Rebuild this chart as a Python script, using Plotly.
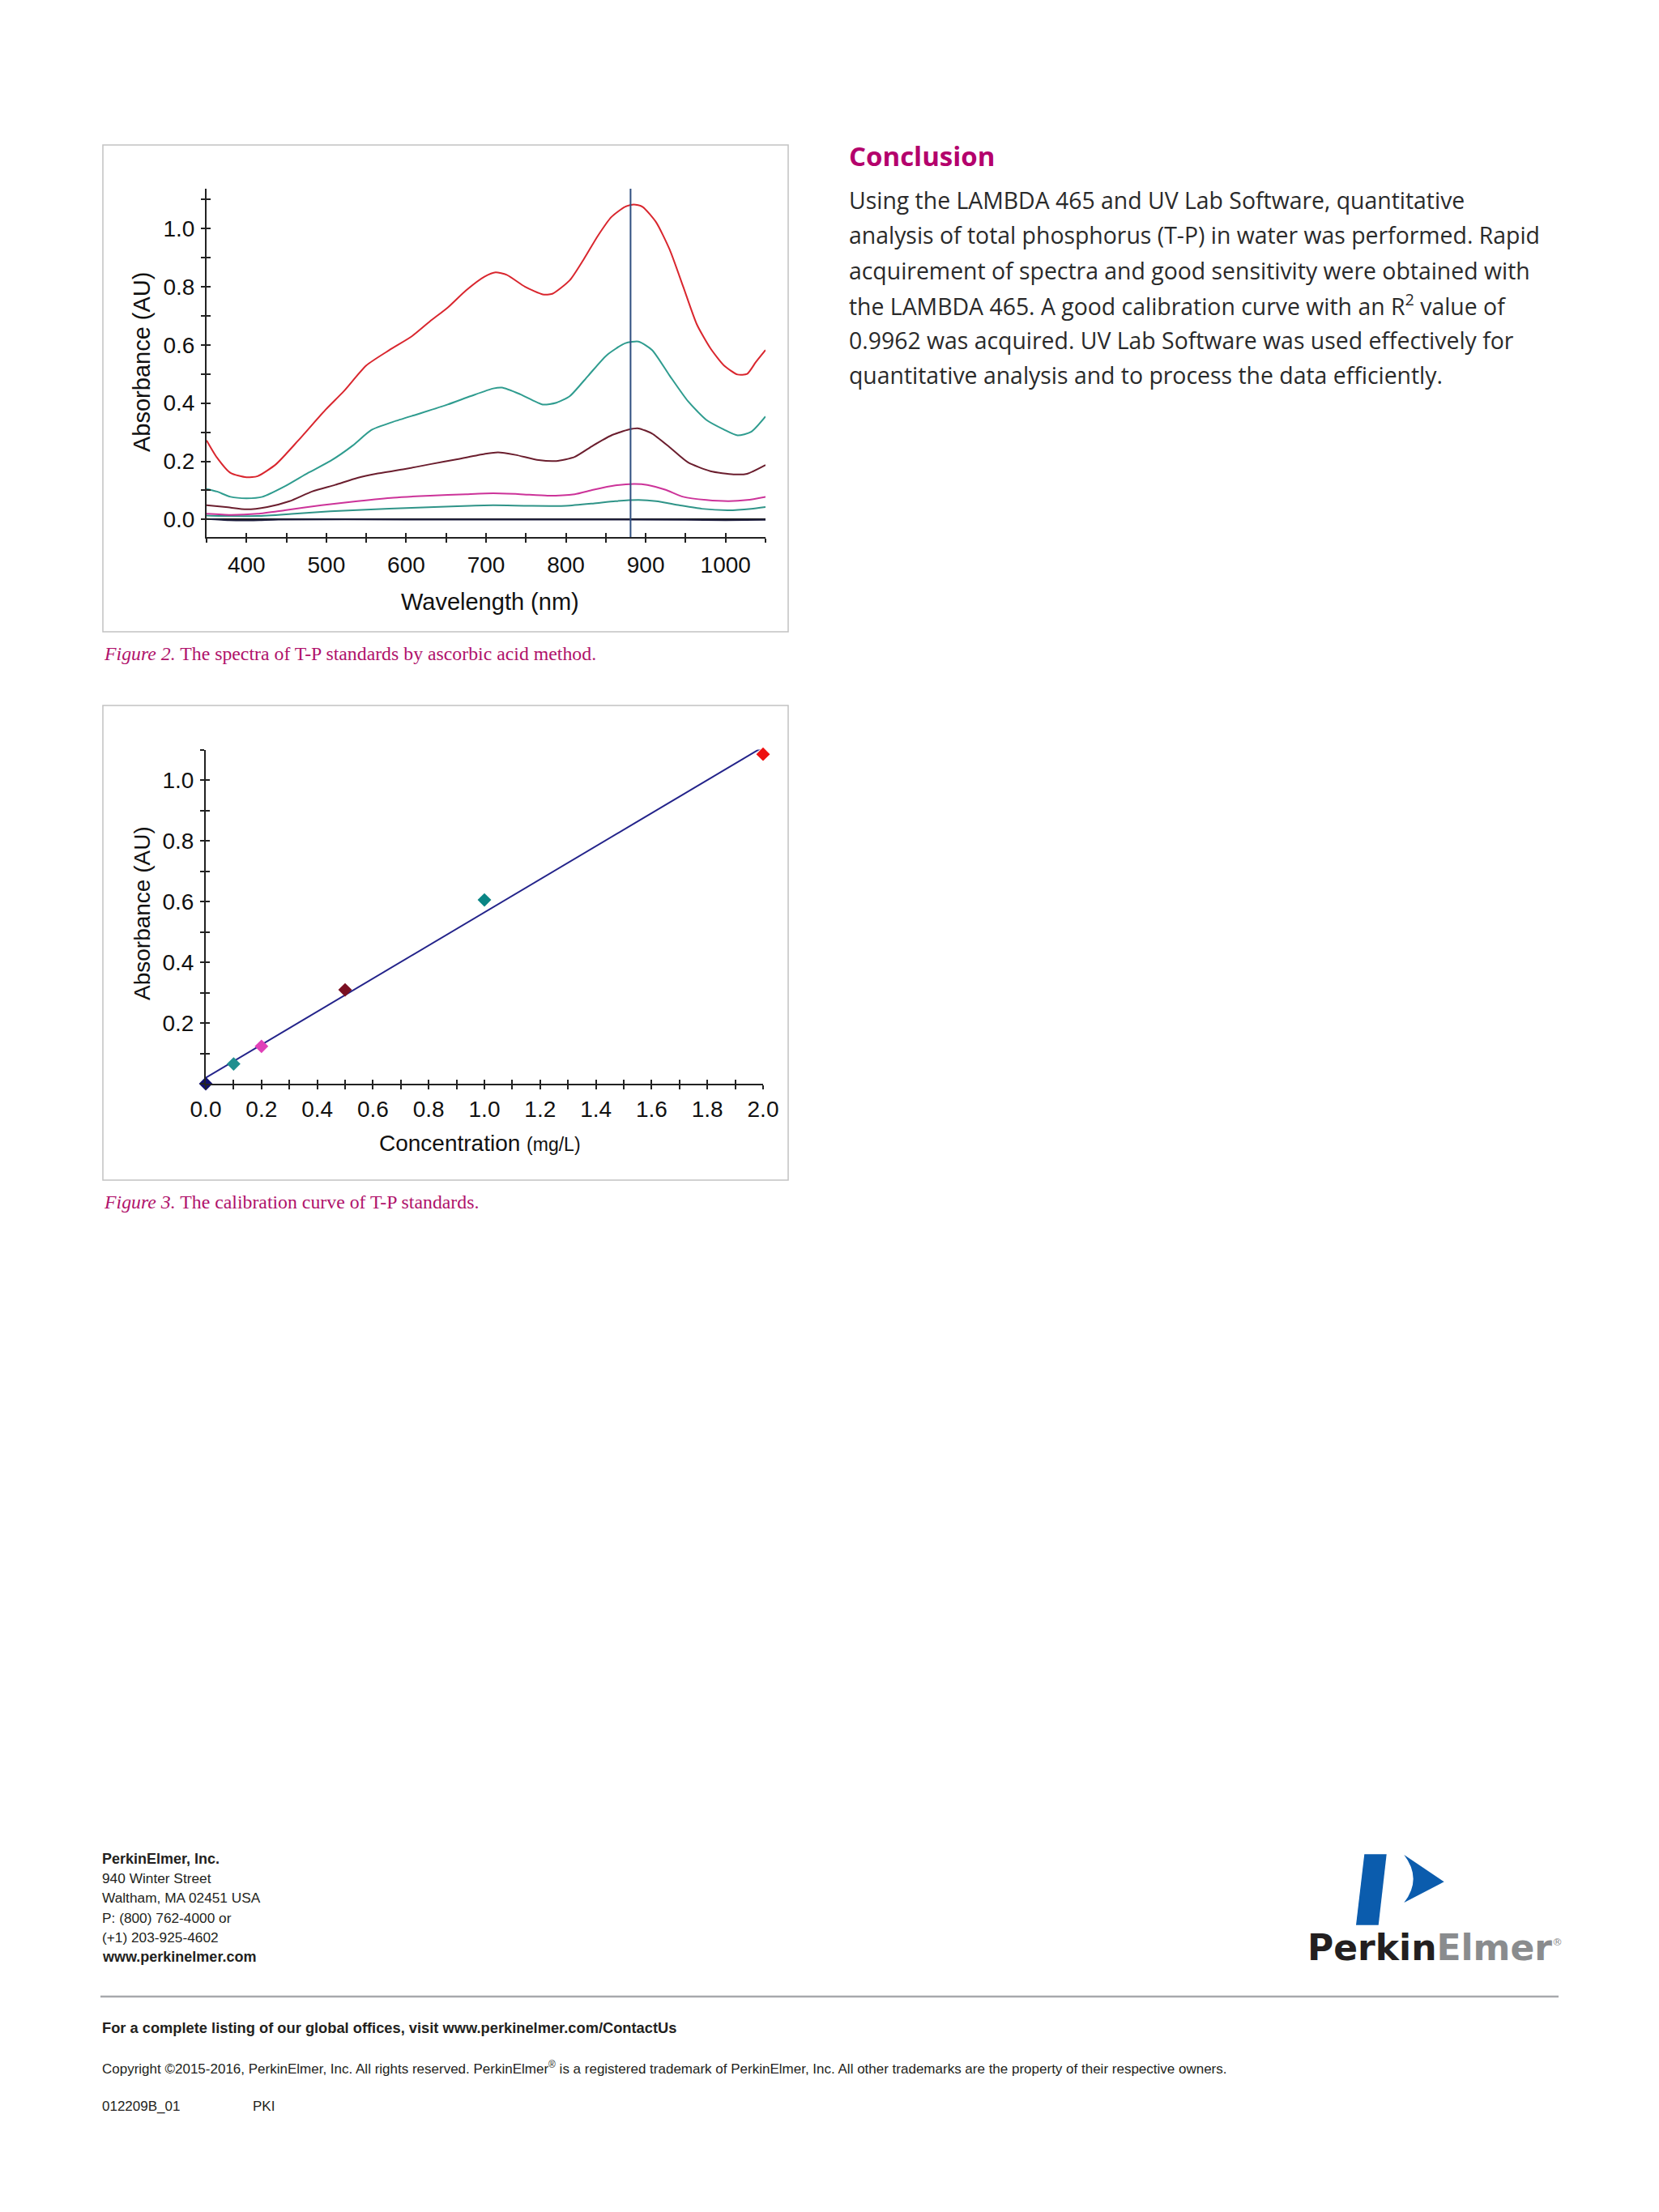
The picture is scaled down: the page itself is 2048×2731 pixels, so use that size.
import numpy as np
import plotly.graph_objects as go

W, H = 2048, 2731

# ---------------- DATA ----------------
# Figure 2: spectra of T-P standards (wavelength nm, absorbance AU)
WL_2_0 = [350, 363, 380, 400, 414, 437, 465, 499, 522, 550, 579, 607, 630, 652, 675, 698, 712, 726, 749,
          771, 783, 805, 822, 840, 857, 874, 885, 896, 913, 930, 947, 964, 981, 998, 1015, 1027, 1038, 1050]
AB_2_0 = [0.272, 0.213, 0.160, 0.145, 0.149, 0.190, 0.272, 0.377, 0.441, 0.529, 0.582, 0.629, 0.681, 0.728,
          0.787, 0.834, 0.849, 0.840, 0.799, 0.773, 0.775, 0.822, 0.892, 0.974, 1.039, 1.074, 1.082, 1.074,
          1.021, 0.927, 0.799, 0.670, 0.588, 0.529, 0.498, 0.500, 0.541, 0.582]

WL_1_0 = [350, 363, 380, 400, 420, 448, 477, 505, 533, 556, 584, 618, 652, 681, 709, 720, 743, 771, 788,
          805, 828, 851, 874, 891, 908, 930, 953, 976, 998, 1015, 1032, 1050]
AB_1_0 = [0.105, 0.096, 0.078, 0.073, 0.078, 0.114, 0.160, 0.201, 0.254, 0.307, 0.336, 0.365, 0.395, 0.424,
          0.450, 0.453, 0.430, 0.395, 0.401, 0.424, 0.494, 0.564, 0.605, 0.611, 0.582, 0.494, 0.406, 0.342,
          0.309, 0.289, 0.301, 0.354]

WL_0_5 = [350, 374, 400, 426, 454, 482, 511, 539, 562, 596, 630, 664, 698, 715, 737, 766, 788, 811, 834,
          857, 879, 891, 908, 930, 953, 981, 1010, 1027, 1050]
AB_0_5 = [0.049, 0.043, 0.035, 0.043, 0.063, 0.096, 0.119, 0.143, 0.157, 0.172, 0.190, 0.207, 0.225, 0.231,
          0.222, 0.204, 0.201, 0.215, 0.254, 0.289, 0.309, 0.313, 0.295, 0.248, 0.196, 0.166, 0.155, 0.157,
          0.187]

WL_0_2 = [350, 380, 414, 448, 494, 539, 584, 630, 675, 709, 743, 777, 811, 834, 862, 885, 902, 925, 947,
          976, 1004, 1027, 1050]
AB_0_2 = [0.020, 0.016, 0.020, 0.032, 0.049, 0.063, 0.075, 0.082, 0.087, 0.090, 0.087, 0.082, 0.087, 0.102,
          0.117, 0.122, 0.119, 0.102, 0.078, 0.067, 0.063, 0.067, 0.078]

WL_0_1 = [350, 380, 414, 460, 505, 550, 607, 664, 709, 754, 800, 834, 862, 891, 913, 942, 970, 1004, 1032,
          1050]
AB_0_1 = [0.014, 0.012, 0.012, 0.020, 0.028, 0.034, 0.040, 0.046, 0.049, 0.047, 0.047, 0.055, 0.063, 0.067,
          0.063, 0.049, 0.037, 0.032, 0.037, 0.043]

WL_BLANK = [350, 378, 395, 416, 440, 600, 800, 950, 1000, 1050]
AB_BLANK = [0.002, -0.002, -0.003, -0.002, 0.000, 0.000, 0.000, -0.001, -0.002, -0.001]

CURSOR_WL = 881

# Figure 3: calibration
CONC = [0.0, 0.1, 0.2, 0.5, 1.0, 2.0]
ABS = [0.000, 0.065, 0.123, 0.309, 0.605, 1.085]

# ticks
X1_TICKS = [350, 400, 450, 500, 550, 600, 650, 700, 750, 800, 850, 900, 950, 1000, 1050]
Y1_TICKS = [0.0, 0.1, 0.2, 0.3, 0.4, 0.5, 0.6, 0.7, 0.8, 0.9, 1.0, 1.1]
X2_TICKS = [0.0, 0.1, 0.2, 0.3, 0.4, 0.5, 0.6, 0.7, 0.8, 0.9, 1.0, 1.1, 1.2, 1.3, 1.4, 1.5, 1.6, 1.7, 1.8,
            1.9, 2.0]
Y2_TICKS = [0.0, 0.1, 0.2, 0.3, 0.4, 0.5, 0.6, 0.7, 0.8, 0.9, 1.0, 1.1]

BODY_LINES = [
    "Using the LAMBDA 465 and UV Lab Software, quantitative",
    "analysis of total phosphorus (T-P) in water was performed. Rapid",
    "acquirement of spectra and good sensitivity were obtained with",
    "the LAMBDA 465. A good calibration curve with an R<sup>2</sup> value of",
    "0.9962 was acquired. UV Lab Software was used effectively for",
    "quantitative analysis and to process the data efficiently.",
]
ADDRESS_LINES = [
    ("PerkinElmer, Inc.", True),
    ("940 Winter Street", False),
    ("Waltham, MA 02451 USA", False),
    ("P: (800) 762-4000 or", False),
    ("(+1) 203-925-4602", False),
    ("www.perkinelmer.com", True),
]

# ---------------- helpers (page pixel -> paper) ----------------
def px(x):
    return x / W


def py(y):
    return 1 - y / H


AX_COL = "#222222"
TICK_FONT = dict(family="Liberation Sans, Arial, sans-serif", size=28, color="#111111")

fig = go.Figure()

spectra = [
    (WL_BLANK, AB_BLANK, "#1c1c3c"),
    (WL_0_1, AB_0_1, "#2f9488"),
    (WL_0_2, AB_0_2, "#cc3399"),
    (WL_0_5, AB_0_5, "#6b1e2e"),
    (WL_1_0, AB_1_0, "#2f9c8f"),
    (WL_2_0, AB_2_0, "#d9262e"),
]
for wl, ab, col in spectra:
    fig.add_trace(go.Scatter(x=wl, y=ab, mode="lines", xaxis="x", yaxis="y",
                             line=dict(color=col, width=2, shape="spline", smoothing=0.6),
                             showlegend=False, hoverinfo="skip"))

Y1_RANGE = [-0.06, 1.136]
fig.add_trace(go.Scatter(x=[CURSOR_WL, CURSOR_WL], y=Y1_RANGE, mode="lines", xaxis="x", yaxis="y",
                         line=dict(color="#2f4f80", width=2), showlegend=False, hoverinfo="skip",
                         cliponaxis=False))

# calibration fit
slope, intercept = np.polyfit(CONC, ABS, 1)
fit_x = [min(CONC), max(CONC)]
fit_y = [intercept + slope * v for v in fit_x]
fig.add_trace(go.Scatter(x=fit_x, y=fit_y, mode="lines", xaxis="x2", yaxis="y2",
                         line=dict(color="#23238a", width=2), showlegend=False, hoverinfo="skip",
                         cliponaxis=False))
CAL_COLORS = ["#10106e", "#1f8f8f", "#e040b8", "#7a0f22", "#0a8585", "#ee1111"]
fig.add_trace(go.Scatter(x=CONC, y=ABS, mode="markers", xaxis="x2", yaxis="y2",
                         marker=dict(symbol="diamond", size=13, color=CAL_COLORS),
                         showlegend=False, hoverinfo="skip", cliponaxis=False))

# dummy traces for overlay axes (crossing ticks)
fig.add_trace(go.Scatter(x=[None], y=[None], xaxis="x3", yaxis="y3", showlegend=False))
fig.add_trace(go.Scatter(x=[None], y=[None], xaxis="x4", yaxis="y4", showlegend=False))


def main_axis(**kw):
    d = dict(showgrid=False, zeroline=False, showline=True, linecolor=AX_COL, linewidth=2,
             ticks="outside", ticklen=5, tickwidth=2, tickcolor=AX_COL, tickfont=TICK_FONT,
             tickmode="array", fixedrange=True)
    d.update(kw)
    return d


def over_axis(**kw):
    d = dict(showgrid=False, zeroline=False, showline=False, ticks="inside", ticklen=5, tickwidth=2,
             tickcolor=AX_COL, showticklabels=False, tickmode="array", fixedrange=True)
    d.update(kw)
    return d


def lab(vals, every, fmt, skip=()):
    out = []
    for v in vals:
        ok = abs(round(v / every) * every - v) < 1e-9 and v not in skip
        out.append(fmt.format(v) if ok else " ")
    return out


X1_RANGE = [350, 1050]
X2_RANGE = [0, 2.0]
Y2_RANGE = [0, 1.1]

fig.update_layout(
    width=W, height=H, margin=dict(l=0, r=0, t=0, b=0, autoexpand=False), autosize=False,
    paper_bgcolor="white", plot_bgcolor="white",
    xaxis=main_axis(domain=[px(255), px(945)], range=X1_RANGE, anchor="y",
                    tickvals=X1_TICKS, ticktext=lab(X1_TICKS, 100, "{:.0f}"), ticklabelstandoff=3),
    yaxis=main_axis(domain=[py(663), py(233)], range=Y1_RANGE, anchor="x",
                    tickvals=Y1_TICKS, ticktext=lab(Y1_TICKS, 0.2, "{:.1f}"),
                    zeroline=True, zerolinecolor="#1a1a1a", zerolinewidth=2, ticklabelstandoff=2),
    xaxis3=over_axis(overlaying="x", anchor="y3", range=X1_RANGE, tickvals=X1_TICKS),
    yaxis3=over_axis(overlaying="y", anchor="x3", range=Y1_RANGE, tickvals=Y1_TICKS),
    xaxis2=main_axis(domain=[px(254), px(942)], range=X2_RANGE, anchor="y2",
                     tickvals=X2_TICKS, ticktext=lab(X2_TICKS, 0.2, "{:.1f}"), ticklabelstandoff=0),
    yaxis2=main_axis(domain=[py(1338), py(925.5)], range=Y2_RANGE, anchor="x2",
                     tickvals=Y2_TICKS, ticktext=lab(Y2_TICKS, 0.2, "{:.1f}", skip=(0.0,)),
                     ticklabelstandoff=2),
    xaxis4=over_axis(overlaying="x2", anchor="y4", range=X2_RANGE, tickvals=X2_TICKS),
    yaxis4=over_axis(overlaying="y2", anchor="x4", range=Y2_RANGE, tickvals=Y2_TICKS),
)

shapes = []
# chart frames
for (x0, y0, x1, y1) in [(127, 179, 973, 780), (127, 871, 973, 1457)]:
    shapes.append(dict(type="rect", xref="paper", yref="paper", x0=px(x0), x1=px(x1), y0=py(y1), y1=py(y0),
                       line=dict(color="#c2c2c2", width=1.5), fillcolor="rgba(0,0,0,0)", layer="below"))
# footer rule
shapes.append(dict(type="line", xref="paper", yref="paper", x0=px(124), x1=px(1924), y0=py(2465), y1=py(2465),
                   line=dict(color="#a7a9ac", width=2.5)))


# logo shapes
def P(x, y):
    return f"{px(x):.6f},{py(y):.6f}"


bar = f"M {P(1684.3, 2289.3)} L {P(1711.7, 2289.3)} L {P(1701.7, 2376.7)} L {P(1674, 2376.7)} Z"
tri = f"M {P(1733.3, 2290)} L {P(1782.7, 2323.3)} L {P(1733.3, 2349)} Q {P(1756, 2320)} {P(1733.3, 2290)} Z"
for path in (bar, tri):
    shapes.append(dict(type="path", xref="paper", yref="paper", path=path,
                       fillcolor="#0b5cad", line=dict(width=0)))

fig.update_layout(shapes=shapes)

ann = []
SANS = "Liberation Sans, Arial, sans-serif"


def add(text, x, y, size, color="#231f20", family=SANS, xanchor="left", yanchor="middle", angle=0):
    ann.append(dict(text=text, x=px(x), y=py(y), xref="paper", yref="paper", showarrow=False,
                    xanchor=xanchor, yanchor=yanchor, textangle=angle,
                    font=dict(family=family, size=size, color=color)))


# axis titles
add("Wavelength (nm)", 605, 743, 29, color="#111111", xanchor="center")
add("Absorbance (AU)", 175, 447, 29, color="#111111", xanchor="center", angle=-90)
add("Concentration <span style='font-size:23px'>(mg/L)</span>", 592, 1411, 28, color="#111111",
    xanchor="center")
add("Absorbance (AU)", 175, 1128, 28, color="#111111", xanchor="center", angle=-90)

# captions
SERIF = "Liberation Serif, Times New Roman, serif"
CAP_COL = "#b0126b"
add("<i>Figure 2.</i> The spectra of T-P standards by ascorbic acid method.", 126, 807, 23.8, CAP_COL, SERIF)
add("<i>Figure 3.</i> The calibration curve of T-P standards.", 126, 1484, 23.8, CAP_COL, SERIF)

# conclusion
BODY = "Open Sans, Noto Sans, sans-serif"
add("<b>Conclusion</b>", 1046, 193, 33, "#b4006c", BODY)
for i, line in enumerate(BODY_LINES):
    add(line, 1046, 247.3 + i * 43.2, 28.4, "#2a2a2a", BODY)

# footer
for i, (line, bold) in enumerate(ADDRESS_LINES):
    add(f"<b>{line}</b>" if bold else line, 124, 2295 + i * 24.2, 18 if bold else 17.3, "#231f20", SANS)
add("<b>For a complete listing of our global offices, visit www.perkinelmer.com/ContactUs</b>", 124, 2503, 18.3)
add("Copyright ©2015-2016, PerkinElmer, Inc. All rights reserved. PerkinElmer<sup>®</sup> is a registered "
    "trademark of PerkinElmer, Inc. All other trademarks are the property of their respective owners.",
    124, 2553, 17.0)
add("012209B_01", 124, 2600, 17.0)
add("PKI", 310, 2600, 17.0)

# logo wordmark
add("<b><span style='color:#231f20'>Perkin</span><span style='color:#8a8c8e'>Elmer</span></b>"
    "<sup><span style='font-size:13px;color:#8a8c8e'>®</span></sup>",
    1612, 2404, 44, "#231f20", "DejaVu Sans, Liberation Sans, sans-serif")

fig.update_layout(annotations=ann)

fig.write_html("out.html", config={"displayModeBar": False},
               post_script="document.body.style.margin='0';document.body.style.overflow='hidden';")
